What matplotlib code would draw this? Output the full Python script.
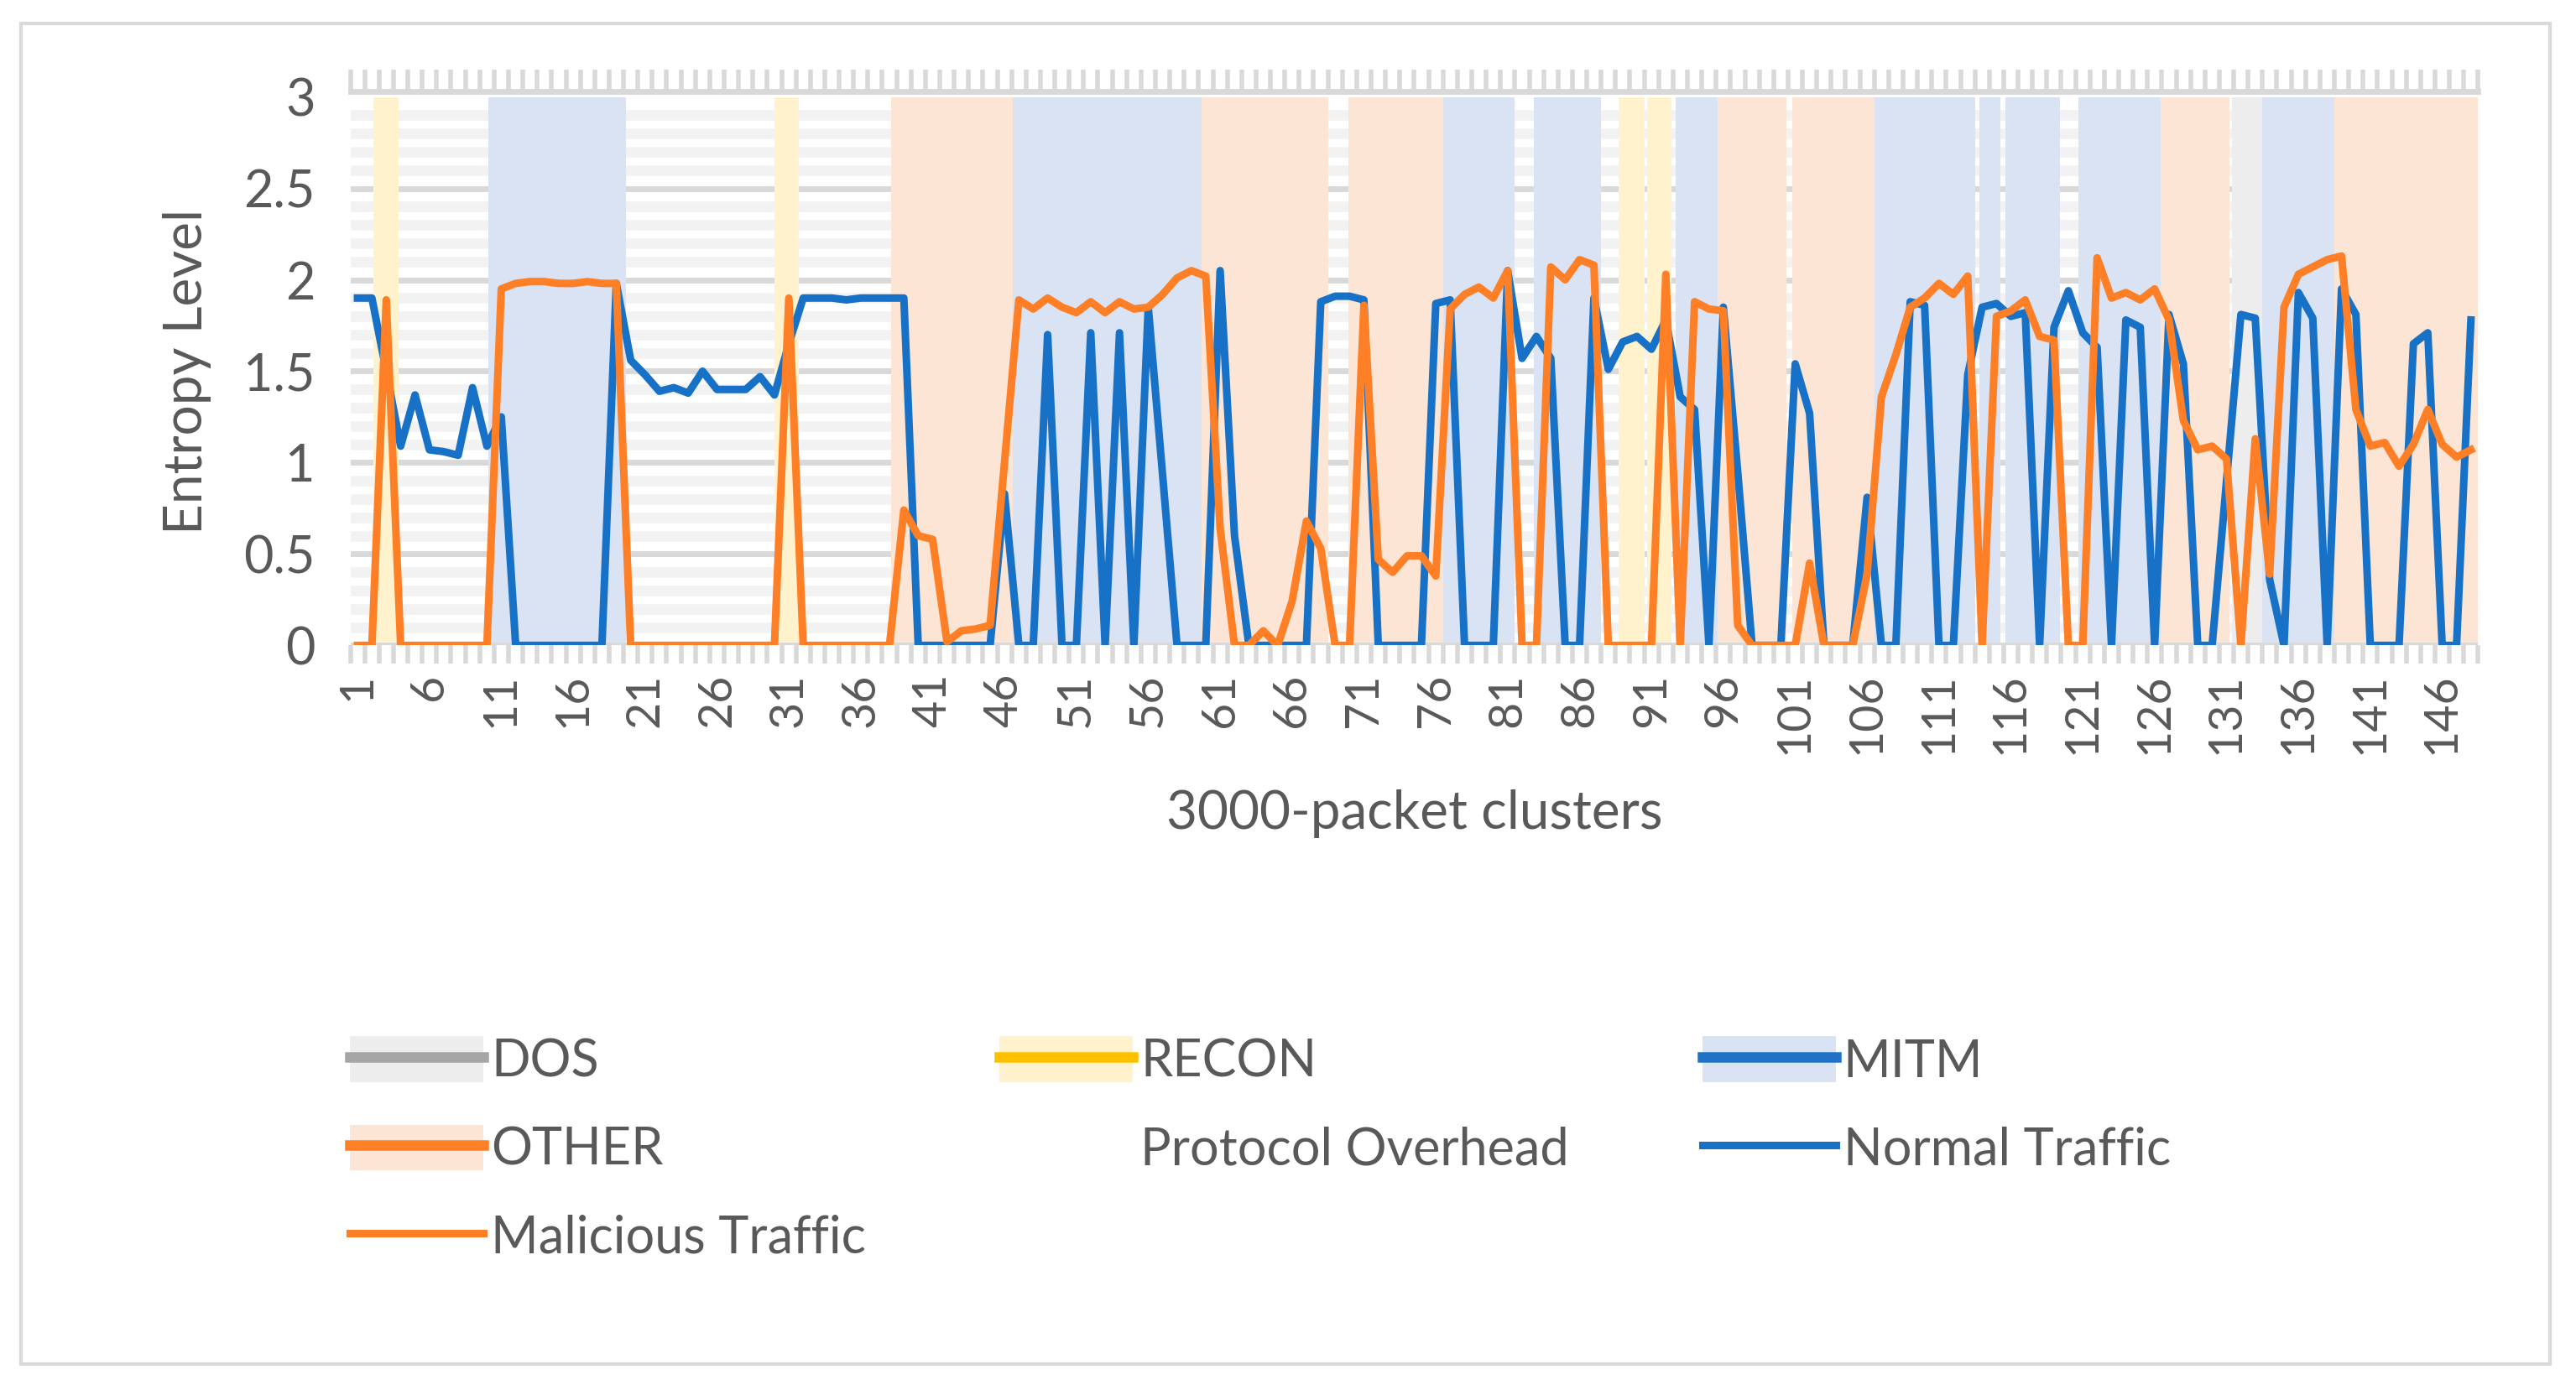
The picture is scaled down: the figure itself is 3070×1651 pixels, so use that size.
import numpy as np
import matplotlib.pyplot as plt
from matplotlib.patches import Patch, Rectangle
from matplotlib.lines import Line2D

plt.rcParams['font.family'] = ['Lato', 'DejaVu Sans']

# データ (1..148 クラスタ)
clusters = np.arange(1, 149)

normal = [
    1.90, 1.90, 1.50, 1.09, 1.37, 1.07, 1.06, 1.04, 1.41, 1.09,
    1.25, 0, 0, 0, 0, 0, 0, 0, 1.98, 1.56,
    1.48, 1.39, 1.41, 1.38, 1.50, 1.40, 1.40, 1.40, 1.47, 1.37,
    1.65, 1.90, 1.90, 1.90, 1.89, 1.90, 1.90, 1.90, 1.90, 0,
    0, 0, 0, 0, 0, 0.83, 0, 0, 1.70, 0,
    0, 1.71, 0, 1.71, 0, 1.85, 0.93, 0, 0, 0,
    2.05, 0.60, 0, 0, 0, 0, 0, 1.88, 1.91, 1.91,
    1.89, 0, 0, 0, 0, 1.87, 1.89, 0, 0, 0,
    2.05, 1.57, 1.69, 1.57, 0, 0, 1.90, 1.51, 1.66, 1.69,
    1.62, 1.78, 1.36, 1.29, 0, 1.85, 0.95, 0, 0, 0,
    1.54, 1.27, 0, 0, 0, 0.81, 0, 0, 1.88, 1.86,
    0, 0, 1.48, 1.85, 1.87, 1.80, 1.82, 0, 1.74, 1.94,
    1.71, 1.63, 0, 1.78, 1.74, 0, 1.81, 1.54, 0, 0,
    0.90, 1.81, 1.79, 0.36, 0, 1.93, 1.79, 0, 1.95, 1.81,
    0, 0, 0, 1.65, 1.71, 0, 0, 1.78,
]

malicious = [
    0, 0, 1.89, 0, 0, 0, 0, 0, 0, 0,
    1.95, 1.98, 1.99, 1.99, 1.98, 1.98, 1.99, 1.98, 1.98, 0,
    0, 0, 0, 0, 0, 0, 0, 0, 0, 0,
    1.90, 0, 0, 0, 0, 0, 0, 0, 0.74, 0.60,
    0.58, 0.02, 0.08, 0.09, 0.11, 1.00, 1.89, 1.84, 1.90, 1.85,
    1.82, 1.88, 1.82, 1.88, 1.84, 1.85, 1.92, 2.01, 2.05, 2.02,
    0.64, 0, 0, 0.08, 0, 0.24, 0.68, 0.53, 0, 0,
    1.86, 0.47, 0.40, 0.49, 0.49, 0.38, 1.84, 1.92, 1.96, 1.90,
    2.05, 0, 0, 2.07, 2.00, 2.11, 2.08, 0, 0, 0,
    0, 2.03, 0, 1.88, 1.84, 1.83, 0.11, 0, 0, 0,
    0, 0.45, 0, 0, 0, 0.39, 1.36, 1.59, 1.85, 1.90,
    1.98, 1.92, 2.02, 0, 1.80, 1.83, 1.89, 1.69, 1.67, 0,
    0, 2.12, 1.90, 1.93, 1.89, 1.95, 1.78, 1.23, 1.07, 1.09,
    1.02, 0, 1.13, 0.39, 1.85, 2.03, 2.07, 2.11, 2.13, 1.29,
    1.09, 1.11, 0.98, 1.10, 1.29, 1.10, 1.03, 1.07,
]

# 攻撃区間 (種類, 開始, 終了) ※クラスタ番号の単位
band_kind = ['RECON', 'MITM', 'RECON', 'OTHER', 'MITM', 'OTHER', 'OTHER', 'MITM', 'MITM',
             'RECON', 'RECON', 'MITM', 'OTHER', 'OTHER', 'MITM', 'MITM', 'MITM', 'MITM',
             'OTHER', 'DOS', 'MITM', 'OTHER']
band_start = [2.1, 10.1, 30.0, 38.1, 46.6, 59.7, 69.9, 76.5, 82.8,
              88.7, 90.7, 92.7, 95.6, 100.8, 106.5, 113.8, 115.6, 120.7,
              126.4, 131.4, 133.5, 138.5]
band_end = [3.85, 19.7, 31.7, 46.6, 59.7, 68.5, 76.5, 81.5, 87.5,
            90.5, 92.4, 95.6, 100.4, 106.5, 113.5, 115.3, 119.4, 126.4,
            131.2, 133.5, 138.5, 148.5]

fill_col = {'DOS': '#ededed', 'RECON': '#fff2cc', 'MITM': '#dae3f3', 'OTHER': '#fde5d6'}
line_col = {'DOS': '#a5a5a5', 'RECON': '#ffc000', 'MITM': '#1f72c6', 'OTHER': '#fd7f26'}
blue = '#1772c7'
orange = '#fe7f25'
grey_txt = '#595959'

fig = plt.figure(figsize=(30.70, 16.51), dpi=100)
ax = fig.add_axes([0.136, 0.534, 0.826, 0.396])

# 背景グリッド
for y in np.arange(0.1, 3.0, 0.1):
    major = abs(y * 2 - round(y * 2)) < 1e-6
    ax.axhline(y, color='#d9d9d9' if major else '#f2f2f2', lw=5 if major else 9, zorder=0)

for k, s, e in zip(band_kind, band_start, band_end):
    ax.axvspan(s, e, ymin=0, ymax=1, color=fill_col[k], lw=0, zorder=1)

ax.plot(clusters, normal, color=blue, lw=6.5, solid_joinstyle='round', zorder=3)
ax.plot(clusters, malicious, color=orange, lw=6.5, solid_joinstyle='round', zorder=4)

# 上部の目盛り帯
edges = np.arange(0.5, 149.5, 1.0)
ax.vlines(edges, 3.04, 3.15, colors='#d9d9d9', lw=4, clip_on=False, zorder=2)
ax.plot([0.5, 148.5], [3.03, 3.03], color='#d9d9d9', lw=5, clip_on=False)
ax.plot([0.5, 148.5], [0, 0], color='#d9d9d9', lw=5, zorder=2)

ax.set_xlim(0.5, 148.5)
ax.set_ylim(0, 3)
ax.set_yticks(np.arange(0, 3.01, 0.5))
ax.set_yticklabels(['0', '0.5', '1', '1.5', '2', '2.5', '3'])
ax.set_xticks(np.arange(1, 149, 5))
ax.set_xticklabels([str(v) for v in range(1, 149, 5)], rotation=90)
ax.set_xticks(edges, minor=True)
ax.tick_params(axis='x', which='major', length=0, labelsize=40, labelcolor=grey_txt, pad=24)
ax.tick_params(axis='x', which='minor', length=16, width=4, color='#d9d9d9')
ax.tick_params(axis='y', length=0, labelsize=44, labelcolor=grey_txt, pad=30)
for sp in ax.spines.values():
    sp.set_visible(False)

ax.set_ylabel('Entropy Level', fontsize=46, color=grey_txt, labelpad=28)
ax.set_xlabel('3000-packet clusters', fontsize=46, color=grey_txt, labelpad=30)

# 凡例
def band_handle(k):
    return (Patch(facecolor=fill_col[k], edgecolor='none'), Line2D([], [], color=line_col[k], lw=9))

h = {
    'DOS': band_handle('DOS'), 'RECON': band_handle('RECON'), 'MITM': band_handle('MITM'),
    'OTHER': band_handle('OTHER'),
    'Protocol Overhead': Line2D([], [], color='none'),
    'Normal Traffic': Line2D([], [], color=blue, lw=6.5),
    'Malicious Traffic': Line2D([], [], color=orange, lw=6.5),
}
order = ['DOS', 'OTHER', 'Malicious Traffic', 'RECON', 'Protocol Overhead', 'MITM', 'Normal Traffic']
fig.legend([h[n] for n in order], order, loc='upper left', bbox_to_anchor=(0.118, 0.285),
           ncol=3, frameon=False, fontsize=44, labelcolor=grey_txt, handlelength=2.6,
           handleheight=1.0, handletextpad=0.15, columnspacing=2.6, labelspacing=0.75)

fig.add_artist(Rectangle((0.008, 0.015), 0.982, 0.968, transform=fig.transFigure,
                         fill=False, edgecolor='#d9d9d9', lw=3))

fig.savefig('out.png', dpi=100)
